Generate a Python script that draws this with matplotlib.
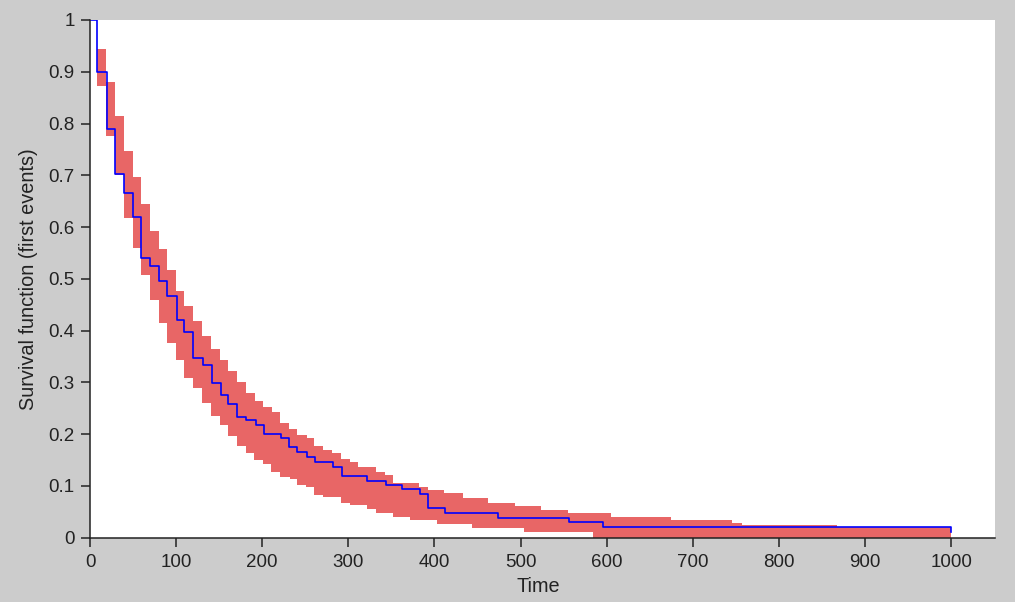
import numpy as np
import matplotlib
matplotlib.use("Agg")
import matplotlib.pyplot as plt

# Kaplan-Meier estimate (step drop times and survival after each drop)
surv_times = [0, 8.5, 19.4, 29.3, 39.8, 50.3, 59.2, 69.7, 80.1, 89.8,
              100.7, 109.5, 120, 130.9, 141.3, 151.8, 160.7, 171.1, 181.2, 192.4,
              202.5, 221.8, 231.5, 240.8, 251.7, 261.3, 282.6, 292.3, 322, 343.4,
              362.7, 383.3, 392.9, 412.3, 474.3, 556.3, 596.2, 1000]
surv = [1.0, 0.899, 0.789, 0.702, 0.666, 0.620, 0.540, 0.525, 0.496, 0.467,
        0.4205, 0.398, 0.348, 0.334, 0.298, 0.276, 0.258, 0.2325, 0.227, 0.2177,
        0.200, 0.192, 0.175, 0.166, 0.1565, 0.1456, 0.136, 0.119, 0.110, 0.102,
        0.0935, 0.0844, 0.0568, 0.047, 0.0374, 0.0297, 0.0207, 0.011]

# upper confidence bound
upper_times = [8.5, 18.3, 29.4, 39.8, 50.3, 59.2, 69.7, 80.1, 89.8, 99.9,
               109.5, 120, 130, 140.5, 151, 160.6, 170.4, 181.2, 191.6, 201.3,
               211, 220.6, 231, 240.8, 251.7, 260.6, 271, 281.4, 291.6, 302,
               311.7, 332.2, 342.6, 352.4, 382.5, 393, 411, 433, 462, 493,
               524, 555, 605, 675, 746, 757, 867]
upper = [0.943, 0.880, 0.815, 0.746, 0.697, 0.645, 0.593, 0.557, 0.517, 0.4765,
         0.4476, 0.4186, 0.3897, 0.364, 0.343, 0.322, 0.301, 0.280, 0.265, 0.253,
         0.243, 0.221, 0.2094, 0.1984, 0.192, 0.1777, 0.1694, 0.163, 0.1514, 0.1468,
         0.136, 0.1263, 0.1211, 0.106, 0.098, 0.092, 0.0855, 0.077, 0.068, 0.062,
         0.0535, 0.0483, 0.0394, 0.0335, 0.028, 0.0245, 0.021]

# lower confidence bound
lower_times = [8.5, 18.3, 29.4, 39.8, 50.3, 59.2, 69.7, 80.1, 89.8, 99.9,
               109.5, 119.8, 130, 140.5, 151, 159.9, 170.4, 180.8, 190.8, 201.3,
               210.2, 220.6, 232.3, 240.8, 250.9, 260.6, 271, 291.6, 302, 322,
               332.2, 352.4, 371.7, 403, 443.3, 504.4, 584.6]
lower = [0.8725, 0.776, 0.7006, 0.617, 0.559, 0.507, 0.459, 0.414, 0.377, 0.344,
         0.309, 0.289, 0.260, 0.236, 0.217, 0.1965, 0.178, 0.164, 0.150, 0.142,
         0.126, 0.118, 0.1128, 0.1018, 0.0974, 0.0825, 0.078, 0.0676, 0.0632, 0.0549,
         0.0483, 0.0394, 0.0342, 0.0265, 0.0193, 0.0110, 0.0]

band_end = 1000
x_ticks = list(range(0, 1001, 100))
y_ticks = [0, 0.1, 0.2, 0.3, 0.4, 0.5, 0.6, 0.7, 0.8, 0.9, 1]


def step_values(times, values, grid):
    """Value of a right-continuous step function at each grid point."""
    idx = np.searchsorted(np.asarray(times), grid, side="right") - 1
    return np.asarray(values)[idx]


plt.rcParams["font.family"] = ["Liberation Sans", "DejaVu Sans"]

fig = plt.figure(figsize=(10.15, 6.02), dpi=100, facecolor="#cccccc")
ax = fig.add_axes([0.0887, 0.1068, 0.8916, 0.8600])
ax.set_facecolor("white")

grid = np.union1d(np.union1d(upper_times, lower_times), [band_end])
ax.fill_between(grid, step_values(lower_times, lower, grid),
                step_values(upper_times, upper, grid),
                step="post", color="#e86666", linewidth=0, zorder=1)
ax.step(surv_times, surv, where="post", color="#0000ff", linewidth=1.2, zorder=2)

ax.set_xlim(0, 1051)
ax.set_ylim(0, 1)
ax.set_xticks(x_ticks)
ax.set_yticks(y_ticks)
ax.set_yticklabels([f"{v:g}" for v in y_ticks])

for side in ("top", "right"):
    ax.spines[side].set_visible(False)
for side in ("left", "bottom"):
    ax.spines[side].set_linewidth(1.1)
    ax.spines[side].set_color("#222222")
ax.tick_params(direction="out", length=6.5, width=1.1, color="#222222",
               labelsize=13.5, labelcolor="#222222")
ax.tick_params(axis="x", pad=5.5)
ax.tick_params(axis="y", pad=4.5)

ax.set_xlabel("Time", fontsize=14.3, color="#222222")
ax.set_ylabel("Survival function (first events)", fontsize=14.3, color="#222222")
ax.xaxis.set_label_coords(0.495, -0.075)
ax.yaxis.set_label_coords(-0.057, 0.5)

fig.savefig("out.png", dpi=100, facecolor=fig.get_facecolor())
